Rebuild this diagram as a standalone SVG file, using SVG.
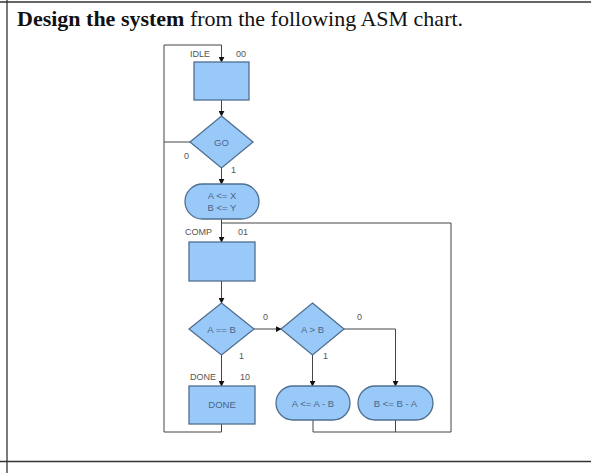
<svg xmlns="http://www.w3.org/2000/svg" width="591" height="473" viewBox="0 0 591 473">
<style>
.frame{stroke:#333;stroke-width:1.3;fill:none}
.title{font-family:"Liberation Serif",serif;font-size:22px;fill:#111}
.node{fill:#99c9f8;stroke:#4f6f8f;stroke-width:1.3}
.ntxt{font-family:"Liberation Sans",Arial,sans-serif;font-size:9.5px;fill:#4a6588;text-anchor:middle}
.lbl{font-family:"Liberation Sans",Arial,sans-serif;font-size:9px;fill:#555}
.wire{stroke:#444;stroke-width:1;fill:none}
</style>
<defs>
<marker id="arr" viewBox="0 0 8 8" refX="7" refY="4" markerWidth="6" markerHeight="6" orient="auto" markerUnits="userSpaceOnUse">
<path d="M0,0 L8,4 L0,8 z" fill="#111"/>
</marker>
</defs>
<rect width="591" height="473" fill="#fff"/>
<g id="frame">
<line class="frame" x1="0" y1="2" x2="591" y2="2"/>
<line class="frame" x1="7" y1="0" x2="7" y2="473"/>
<line class="frame" x1="0" y1="461.5" x2="591" y2="461.5"/>
</g>
<text class="title" x="17" y="26"><tspan font-weight="bold">Design the system</tspan> from the following ASM chart.</text>
<g id="connectors">
<path class="wire" d="M191,142 H164 V45 H221.5 V62" marker-end="url(#arr)"/>
<path class="wire" d="M221.5,100 V116" marker-end="url(#arr)"/>
<path class="wire" d="M221.5,168 V184" marker-end="url(#arr)"/>
<path class="wire" d="M221.5,219 V242" marker-end="url(#arr)"/>
<path class="wire" d="M313,420 V432 H451 V223 H221.5"/>
<path class="wire" d="M395.5,420 V432"/>
<path class="wire" d="M221.5,281 V303" marker-end="url(#arr)"/>
<path class="wire" d="M254,329 H281" marker-end="url(#arr)"/>
<path class="wire" d="M344,329 H395.5 V386" marker-end="url(#arr)"/>
<path class="wire" d="M312.5,355 V386" marker-end="url(#arr)"/>
<path class="wire" d="M221.5,355 V386" marker-end="url(#arr)"/>
<path class="wire" d="M221.5,424 V432 H164 V142"/>
</g>
<g id="idle">
<rect class="node" x="194" y="62" width="55" height="38"/>
<text class="lbl" x="190" y="57">IDLE</text>
<text class="lbl" x="236" y="57">00</text>
</g>
<g id="go">
<polygon class="node" points="221.5,116 253,142 221.5,168 190,142"/>
<text class="ntxt" x="221.5" y="145.5">GO</text>
<text class="lbl" x="184" y="159">0</text>
<text class="lbl" x="231" y="173">1</text>
</g>
<g id="load">
<rect class="node" x="185" y="184" width="74" height="35" rx="17.5"/>
<text class="ntxt" x="222" y="199">A &lt;= X</text>
<text class="ntxt" x="222" y="211">B &lt;= Y</text>
</g>
<g id="comp">
<rect class="node" x="189" y="242" width="66" height="39"/>
<text class="lbl" x="185" y="235">COMP</text>
<text class="lbl" x="238" y="235">01</text>
</g>
<g id="aeqb">
<polygon class="node" points="221.5,303 254,329 221.5,355 189,329"/>
<text class="ntxt" x="221.5" y="332.5">A == B</text>
<text class="lbl" x="263" y="320">0</text>
<text class="lbl" x="239" y="359">1</text>
</g>
<g id="agtb">
<polygon class="node" points="312.5,303 344,329 312.5,355 281,329"/>
<text class="ntxt" x="312.5" y="332.5">A &gt; B</text>
<text class="lbl" x="357" y="320">0</text>
<text class="lbl" x="323" y="359">1</text>
</g>
<g id="done">
<rect class="node" x="189" y="386" width="66" height="38"/>
<text class="ntxt" x="222" y="408">DONE</text>
<text class="lbl" x="190" y="380">DONE</text>
<text class="lbl" x="240" y="380">10</text>
</g>
<g id="suba">
<rect class="node" x="276" y="386" width="74" height="34" rx="17"/>
<text class="ntxt" x="313" y="406.5">A &lt;= A - B</text>
</g>
<g id="subb">
<rect class="node" x="358" y="386" width="75" height="34" rx="17"/>
<text class="ntxt" x="395.5" y="406.5">B &lt;= B - A</text>
</g>
</svg>
